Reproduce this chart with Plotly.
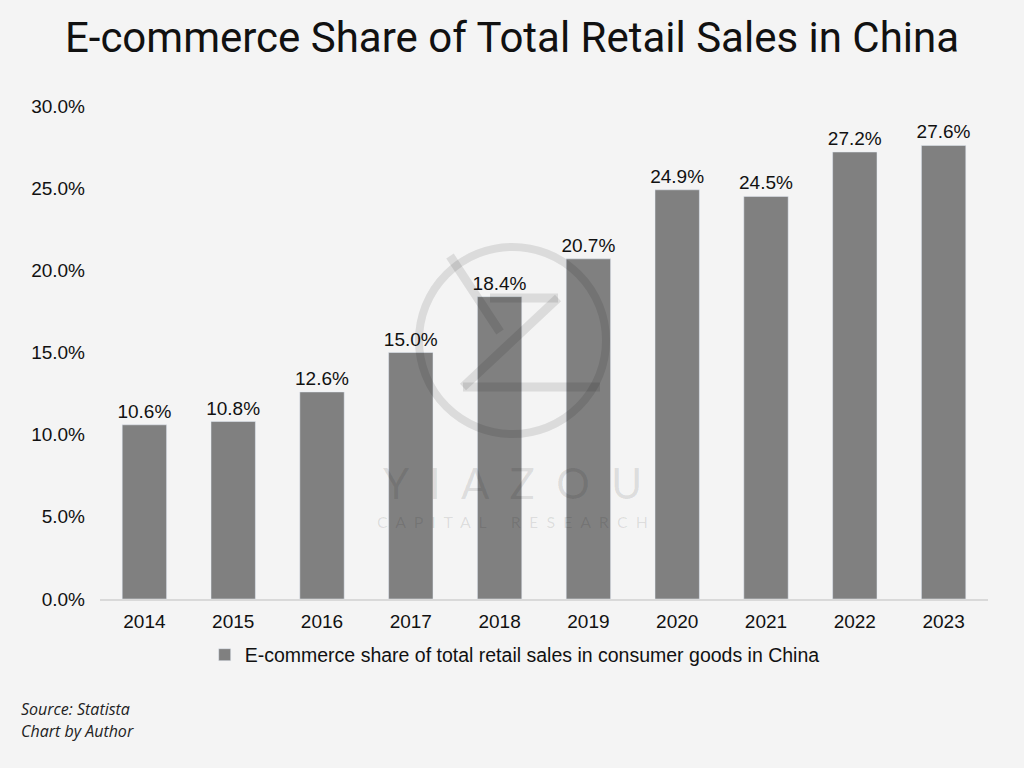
import plotly.graph_objects as go

# datos
years = ['2014', '2015', '2016', '2017', '2018', '2019', '2020', '2021', '2022', '2023']
share = [10.6, 10.8, 12.6, 15.0, 18.4, 20.7, 24.9, 24.5, 27.2, 27.6]
series_name = 'E-commerce share of total retail sales in consumer goods in China'
y_ticks = [0, 5, 10, 15, 20, 25, 30]

BG = '#f4f4f4'
BAR = '#808080'
WM = 'rgba(0,0,0,0.1)'
WM_TXT = 'rgba(0,0,0,0.1)'
FONT = 'Liberation Sans, Arial'

# plot area in pixels (for the watermark)
L, R, T, B = 100, 988, 106, 599


def px(x):
    return (x - L) / (R - L)


def py(y):
    return (B - y) / (B - T)


fig = go.Figure()
fig.add_trace(go.Bar(
    x=years,
    y=share,
    name=series_name,
    marker_color=BAR,
    text=[f'{v:.1f}%' for v in share],
    textposition='outside',
    constraintext='none',
    textfont=dict(family=FONT, size=19, color='#111111'),
    cliponaxis=False,
    showlegend=True,
))

# logo de marca de agua
shapes = [
    dict(type='circle', xref='paper', yref='paper', layer='above',
         x0=px(419), x1=px(606), y0=py(434), y1=py(247),
         line=dict(color=WM, width=8)),
]
for (xa, ya, xb, yb) in [(450, 256, 500, 332), (490, 298, 558, 298),
                         (558, 298, 463, 387), (463, 387, 600, 387)]:
    shapes.append(dict(type='line', xref='paper', yref='paper', layer='above',
                       x0=px(xa), y0=py(ya), x1=px(xb), y1=py(yb),
                       line=dict(color=WM, width=9)))

sp2 = '&nbsp;&nbsp;'
annotations = [
    dict(text=sp2.join('YIAZOU'),
         xref='paper', yref='paper', x=px(512), y=py(483), yanchor='middle',
         showarrow=False, font=dict(family='Lato', size=42, color=WM_TXT)),
    dict(text=sp2.join('CAPITAL') + sp2 * 3 + sp2.join('RESEARCH'),
         xref='paper', yref='paper', x=px(512), y=py(521), yanchor='middle',
         showarrow=False, font=dict(family='Lato', size=16, color=WM_TXT)),
    dict(text='<i>Source: Statista</i>', xref='paper', yref='paper',
         x=px(19), y=py(709), xanchor='left', yanchor='middle', showarrow=False,
         font=dict(family='Open Sans', size=16, color='#222222')),
    dict(text='<i>Chart by Author</i>', xref='paper', yref='paper',
         x=px(19), y=py(731), xanchor='left', yanchor='middle', showarrow=False,
         font=dict(family='Open Sans', size=16, color='#222222')),
]

fig.update_layout(
    width=1024, height=768,
    paper_bgcolor=BG, plot_bgcolor=BG,
    margin=dict(l=L, r=1024 - R, t=T, b=768 - B),
    bargap=0.5,
    title=dict(text='E-commerce Share of Total Retail Sales in China',
               x=0.5, xanchor='center', y=1 - 37 / 768, yanchor='middle',
               font=dict(family='Roboto', size=42, color='#111111')),
    xaxis=dict(showgrid=False, showline=True, linecolor='#d9d9d9', linewidth=2,
               ticks='', ticklabelstandoff=4,
               tickfont=dict(family=FONT, size=19, color='#111111')),
    yaxis=dict(range=[0, 30], tickvals=y_ticks, ticktext=[f'{v:.1f}%' for v in y_ticks],
               showgrid=False, zeroline=False, ticks='', ticklabelstandoff=14,
               tickfont=dict(family=FONT, size=19, color='#111111')),
    legend=dict(orientation='h', x=0.467, xanchor='center', y=py(655), yanchor='middle',
                font=dict(family=FONT, size=19.5, color='#111111'),
                bgcolor='rgba(0,0,0,0)', itemwidth=30),
    shapes=shapes,
    annotations=annotations,
)

fig.write_html("out.html",
               config={'displayModeBar': False},
               post_script="document.body.style.margin='0';"
                           "document.body.style.background='#f4f4f4';")
